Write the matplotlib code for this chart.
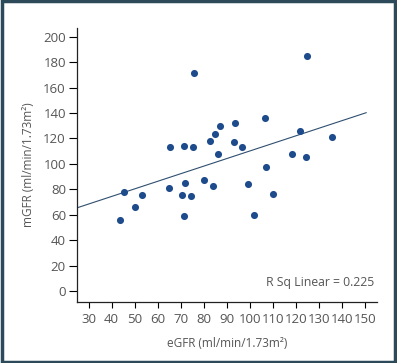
import numpy as np
import matplotlib.pyplot as plt
from matplotlib.patches import Rectangle

# data
egfr = [75.8, 65.3, 71.3, 75.5, 87.1, 84.8, 82.5, 93.6, 93.1, 96.7, 86.3,
        45.2, 53.0, 50.3, 43.6, 64.9, 72.0, 70.7, 74.6, 80.1, 84.0, 71.5,
        99.2, 124.8, 106.6, 121.9, 135.5, 118.4, 124.5, 106.9, 110.2, 101.6]
mgfr = [171.7, 113.1, 113.9, 113.6, 129.7, 123.9, 118.1, 132.5, 117.1, 113.1, 107.6,
        77.7, 75.8, 66.1, 56.1, 81.1, 84.8, 75.4, 75.0, 87.2, 82.9, 59.3,
        84.5, 185.0, 136.0, 125.7, 121.3, 107.9, 105.5, 97.9, 76.1, 59.8]

# linear fit line as drawn
fit_x = [25, 150.4]
fit_intercept = 50.5
fit_slope = 0.597
r_sq = 0.225

x_ticks = np.arange(30, 151, 10)
y_ticks = np.arange(0, 201, 20)

plt.rcParams['font.family'] = ['Open Sans', 'DejaVu Sans']

fig = plt.figure(figsize=(3.97, 3.63), dpi=100)
ax = fig.add_axes([0.194, 0.168, 0.755, 0.755])

ax.scatter(egfr, mgfr, s=26, color='#1d4b8b', zorder=3, linewidths=0)
fx = np.array(fit_x)
ax.plot(fx, fit_intercept + fit_slope * fx, color='#2f4f6f', lw=0.8, zorder=2)

ax.set_xlim(25, 155)
ax.set_ylim(-8.7, 207)
ax.set_xticks(x_ticks)
ax.set_yticks(y_ticks)

for s in ['top', 'right']:
    ax.spines[s].set_visible(False)
for s in ['left', 'bottom']:
    ax.spines[s].set_linewidth(0.9)
    ax.spines[s].set_color('#222222')

ax.tick_params(axis='y', length=6, width=0.8, labelsize=9.5, labelcolor='#555555', pad=2)
ax.tick_params(axis='x', length=4, width=0.8, labelsize=9.5, labelcolor='#555555', pad=4)

ax.set_xlabel('eGFR (ml/min/1.73m²)', fontsize=8.5, color='#555555', labelpad=8)
ax.set_ylabel('mGFR (ml/min/1.73m²)', fontsize=8.5, color='#555555', labelpad=6)

ax.text(153.7, 6.3, f'R Sq Linear = {r_sq}', ha='right', va='center',
        fontsize=8.8, color='#555555')

# outer frame
fig.patches.append(Rectangle((0.004, 0.004), 0.992, 0.992, transform=fig.transFigure,
                             fill=False, edgecolor='#2d4a5a', lw=2.5))

fig.savefig('out.png', dpi=100)
